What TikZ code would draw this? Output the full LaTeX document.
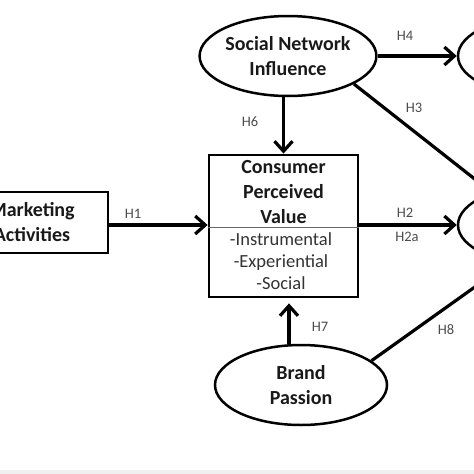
\documentclass[tikz,border=0pt]{standalone}
\usepackage{fontspec}
\setmainfont{Carlito}
\usetikzlibrary{shapes.geometric,arrows.meta}
\begin{document}
\begin{tikzpicture}[x=1pt,y=-1pt,
  ell/.style={draw, line width=2.5pt, ellipse, minimum width=172pt, minimum height=80pt, inner sep=0pt},
  boxx/.style={draw, line width=2.8pt, rectangle, inner sep=0pt},
  big/.style={font=\fontsize{20}{25}\selectfont\bfseries, text=black!90, align=center},
  sub/.style={font=\fontsize{18.5}{22}\selectfont, text=black!80, align=center},
  lab/.style={font=\fontsize{14.5}{16}\selectfont, text=black!70, inner sep=0pt},
  arr/.style={line width=3.2pt, -{Straight Barb[length=10pt,width=18pt]}},
  ln/.style={line width=3.2pt}]
\useasboundingbox (0,0) rectangle (474,474);
\begin{scope}
\clip (0,0) rectangle (474,474);
\fill[black!6] (0,470) rectangle (474,474);
% nodes
\node[ell, big] (sni) at (288,56) {Social Network\\Influence};
\node[ell, big] (bp) at (301,385) {Brand\\Passion};
\node[ell] (ro1) at (544,56) {};
\node[ell] (ro2) at (544,225) {};
\node[boxx, minimum width=149pt, minimum height=142pt] (cpv) at (283.5,226) {};
\node[big, inner sep=0pt] (cpvt) at (283.5,192) {Consumer\\Perceived\\Value};
\node[sub, inner sep=0pt] (cpvs) at (281,261) {-Instrumental\\-Experiential\\-Social};
\node[boxx, minimum width=152pt, minimum height=61pt, big] (ma) at (32,222.5) {Marketing\\Activities};
% helper coordinates
\coordinate (dv) at (0,227);
\coordinate (h1y) at (0,225);
\coordinate (h7x) at (289,0);
% divider
\draw[line width=1pt, black!60] (cpv.west |- dv) -- (cpv.east |- dv);
% connectors
\draw[arr] (ma.east |- h1y) -- (cpv.west |- h1y);
\draw[arr] (cpv.east |- ro2) -- (ro2);
\draw[arr] (sni.east) -- (ro1);
\draw[arr] (cpv.north |- sni.south) -- (cpv.north);
\draw[arr, shorten >=5pt] (bp.north -| h7x) -- (cpv.south -| h7x);
\draw[arr] (sni.-23.5) -- (ro2.148);
\draw[arr] (bp.19) -- (ro2.-133);
% labels
\node[lab] (l4) at (405,36) {H4};
\node[lab] (l3) at (414,108) {H3};
\node[lab] (l6) at (250,122) {H6};
\node[lab] (l1) at (133,214) {H1};
\node[lab] (l2) at (405,213) {H2};
\node[lab] (l2a) at (407,237) {H2a};
\node[lab] (l7) at (320,327) {H7};
\node[lab] (l8) at (446,330) {H8};
\end{scope}
\end{tikzpicture}
\end{document}
